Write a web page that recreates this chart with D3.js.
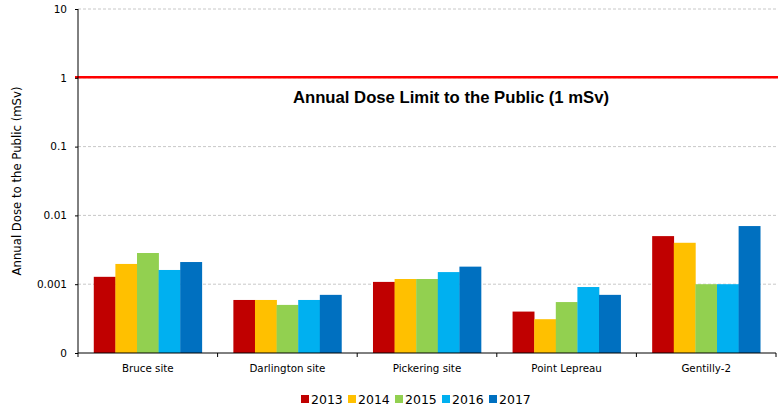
<!DOCTYPE html>
<html>
<head>
<meta charset="utf-8">
<script src="https://cdn.jsdelivr.net/npm/d3@7"></script>
<style>
  body { margin: 0; background: #fff; }
  svg { display: block; }
</style>
</head>
<body>
<svg id="chart" width="782" height="413"></svg>
<script>
const sites = ["Bruce site", "Darlington site", "Pickering site", "Point Lepreau", "Gentilly-2"];
const years = ["2013", "2014", "2015", "2016", "2017"];
const yearColors = ["#c00000", "#ffc000", "#92d050", "#00b0f0", "#0070c0"];

// dose per site, one array per year (mSv)
const dose2013 = [0.00128, 0.00059, 0.00108, 0.0004, 0.005];
const dose2014 = [0.00197, 0.00059, 0.00119, 0.00031, 0.004];
const dose2015 = [0.00284, 0.0005, 0.00119, 0.00055, 0.001];
const dose2016 = [0.00161, 0.00059, 0.0015, 0.00091, 0.001];
const dose2017 = [0.0021, 0.0007, 0.0018, 0.0007, 0.007];
const doseByYear = [dose2013, dose2014, dose2015, dose2016, dose2017];

const yTicks = [0.0001, 0.001, 0.01, 0.1, 1, 10];
const yTickLabels = ["0", "0.001", "0.01", "0.1", "1", "10"];
const doseLimit = 1;

const margin = {top: 9, right: 6, bottom: 60, left: 78};
const width = 782, height = 413;
const plotW = width - margin.left - margin.right;
const plotH = height - margin.top - margin.bottom;

const svg = d3.select("#chart");
const g = svg.append("g").attr("transform", `translate(${margin.left},${margin.top})`);

const x = d3.scaleBand().domain(sites).range([0, plotW]).paddingInner(0.226).paddingOuter(0.113);
const xYear = d3.scaleBand().domain(years).range([0, x.bandwidth()]);
const xEdge = d3.scaleLinear().domain([0, sites.length]).range([0, plotW]);
const y = d3.scaleLog().domain([0.0001, 10]).range([plotH, 0]);

// gridlines
g.append("g").selectAll("line")
    .data(yTicks.slice(1))
    .join("line")
    .attr("x1", 0).attr("x2", plotW)
    .attr("y1", d => y(d)).attr("y2", d => y(d))
    .attr("stroke", "#c8c8c8")
    .attr("stroke-dasharray", "3,2")
    .attr("stroke-width", 1);

// bars
const barData = [];
doseByYear.forEach((vals, yi) => vals.forEach((v, si) => barData.push({site: sites[si], year: years[yi], yi, v})));
g.append("g").selectAll("rect")
    .data(barData)
    .join("rect")
    .attr("x", d => x(d.site) + xYear(d.year))
    .attr("width", xYear.bandwidth() + 0.3)
    .attr("y", d => y(d.v))
    .attr("height", d => plotH - y(d.v))
    .attr("fill", d => yearColors[d.yi]);

// dose limit line
g.append("line")
    .attr("x1", -3).attr("x2", plotW + 2)
    .attr("y1", y(doseLimit) - 0.5).attr("y2", y(doseLimit) - 0.5)
    .attr("stroke", "#ff0000")
    .attr("stroke-width", 2.5);
g.append("text")
    .attr("x", 373).attr("y", y(doseLimit) + 25.5)
    .attr("text-anchor", "middle")
    .attr("font-family", "Liberation Sans, Arial, sans-serif")
    .attr("font-weight", "bold")
    .attr("font-size", 16.7)
    .attr("fill", "#000")
    .text("Annual Dose Limit to the Public (1 mSv)");

// y axis
const yAxis = d3.axisLeft(y)
    .tickValues(yTicks)
    .tickFormat((d, i) => yTickLabels[i])
    .tickSize(3)
    .tickPadding(8);
const yG = g.append("g").call(yAxis);
yG.select(".domain").attr("d", `M0,${plotH}V0`).attr("stroke", "#000");
yG.selectAll("text")
    .attr("font-family", "DejaVu Sans, Verdana, sans-serif")
    .attr("font-size", 10.5)
    .attr("fill", "#000");

// x axis
const xG = g.append("g").attr("transform", `translate(0,${plotH})`);
xG.append("line").attr("x1", 0).attr("x2", plotW).attr("stroke", "#000");
xG.selectAll("line.tick")
    .data(d3.range(sites.length + 1))
    .join("line")
    .attr("class", "tick")
    .attr("x1", d => xEdge(d)).attr("x2", d => xEdge(d))
    .attr("y1", 0).attr("y2", 4)
    .attr("stroke", "#000");
xG.selectAll("text")
    .data(sites)
    .join("text")
    .attr("x", d => x(d) + x.bandwidth() / 2)
    .attr("y", 19)
    .attr("text-anchor", "middle")
    .attr("font-family", "DejaVu Sans, Verdana, sans-serif")
    .attr("font-size", 10.3)
    .attr("fill", "#000")
    .text(d => d);

// y axis title
svg.append("text")
    .attr("transform", `translate(21,${margin.top + plotH / 2}) rotate(-90)`)
    .attr("text-anchor", "middle")
    .attr("font-family", "DejaVu Sans, Verdana, sans-serif")
    .attr("font-size", 11.7)
    .attr("fill", "#000")
    .text("Annual Dose to the Public (mSv)");

// legend
const legend = svg.append("g").attr("transform", "translate(301,399)");
const item = legend.selectAll("g")
    .data(years)
    .join("g")
    .attr("transform", (d, i) => `translate(${i * 47},0)`);
item.append("rect")
    .attr("x", 0).attr("y", -4)
    .attr("width", 8).attr("height", 8)
    .attr("fill", (d, i) => yearColors[i]);
item.append("text")
    .attr("x", 10).attr("y", 5)
    .attr("font-family", "DejaVu Sans, Verdana, sans-serif")
    .attr("font-size", 12.5)
    .attr("fill", "#000")
    .text(d => d);
</script>
</body>
</html>
